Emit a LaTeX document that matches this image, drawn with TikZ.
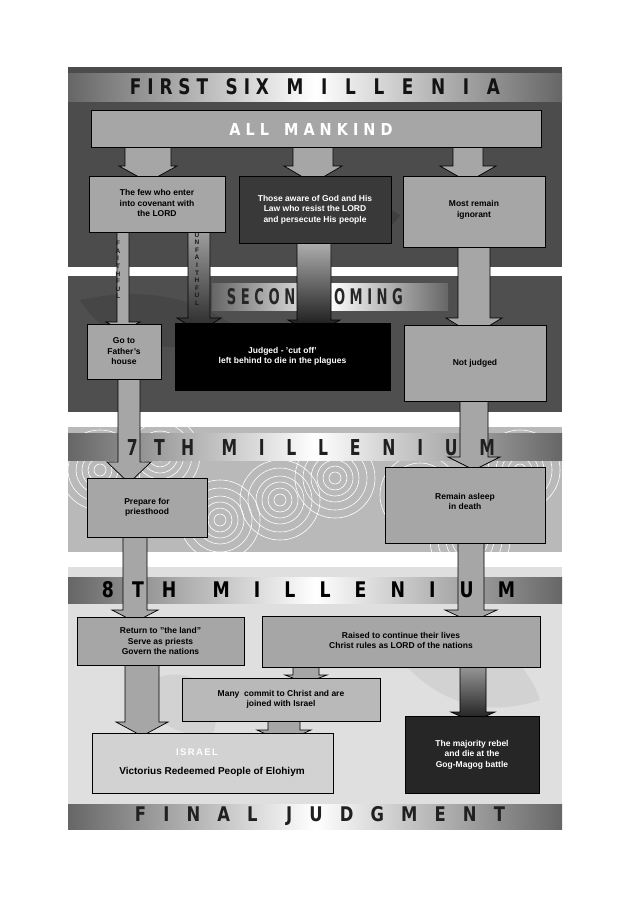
\documentclass[tikz,border=0pt]{standalone}
\usepackage{fontspec}
\setmainfont{Liberation Sans}
\newfontfamily\ttl{DejaVu Sans}[FakeStretch=0.55]
\usepackage{graphicx}
\begin{document}
\begin{tikzpicture}[x=1pt,y=-1pt,
  box/.style={draw=black,line width=0.8pt,fill=gray!70,font=\bfseries\fontsize{8.5}{10.5}\selectfont,align=center,inner sep=0pt},
  band/.style={left color=gray!80!black,right color=gray!80!black,middle color=white},
  arr/.style={draw=black,line width=0.7pt,fill=gray!70},
  ttxt/.style={inner sep=0pt,anchor=center}]
\newcommand\barrow[7][arr]{% style, xc, shaft half, head half, ytop, yhead, ytip
  \path[#1] (#2-#3,#5) -- (#2-#3,#6) -- (#2-#4,#6) -- (#2,#7) -- (#2+#4,#6) -- (#2+#3,#6) -- (#2+#3,#5) -- cycle;}
\newcommand\ttitle[5]{\node[ttxt,text=#5] at (#1,#2) {\resizebox{#3pt}{#4pt}{\ttl\bfseries #5}};}
\useasboundingbox (0,0) rectangle (630,900);
\fill[white] (0,0) rectangle (630,900);
% panels
\fill[gray!60!black] (68,67) rectangle (562,267);
\fill[gray!62!black] (68,276) rectangle (562,412);
\fill[gray!55] (68,427) rectangle (562,552);
\fill[gray!25] (68,567) rectangle (562,830);
% faint continents
\fill[gray!50!black] (250,200) .. controls (300,180) and (360,190) .. (400,215) .. controls (380,250) and (300,250) .. (250,200);
\fill[gray!55!black] (80,300) .. controls (150,285) and (200,300) .. (240,330) .. controls (180,360) and (110,350) .. (80,300);
\fill[gray!35] (380,630) .. controls (450,610) and (520,640) .. (540,700) .. controls (480,720) and (420,700) .. (380,630);
\fill[gray!35] (150,680) .. controls (200,660) and (230,700) .. (210,740) .. controls (170,730) and (140,720) .. (150,680);
% circles
\begin{scope}
\clip (68,427) rectangle (562,552);
\foreach \cx/\cy in {100/470,280/500,335/478,420/495,520/470,220/520,470/540,160/455}{
  \foreach \r in {6,12,18,24,32,40}{\draw[white,line width=0.6pt] (\cx,\cy) circle (\r);}}
\end{scope}
% bands
\fill[band] (68,73) rectangle (562,101);
\fill[band] (212,283) rectangle (448,310);
\fill[band] (68,433) rectangle (562,460);
\fill[band] (68,577) rectangle (562,603);
\fill[band] (68,804) rectangle (562,829);
\node[ttxt] (t1) at (315,87) {\resizebox{370pt}{16pt}{\color{gray!15!black}\ttl\bfseries F~I~R~S~T~~~S~I~X~~~M~~~I~~~L~~~L~~~E~~~N~~~I~~~A}};
\node[ttxt] (t3) at (315,297) {\resizebox{176pt}{16pt}{\color{gray!30!black}\ttl\bfseries S~E~C~O~N~D~~C~O~M~I~N~G}};
% arrows top
\barrow{148}{23}{29}{140}{166}{182}
\barrow{313}{20}{29}{140}{166}{183}
\barrow{468}{15}{28}{140}{166}{182}
\barrow{123}{6}{17}{225}{322}{331}
\barrow[arr,top color=gray!70,bottom color=gray!30!black]{199}{11}{22}{225}{318}{332}
\barrow[arr,top color=gray!60,bottom color=gray!10!black]{314}{17}{26}{240}{320}{335}
\barrow{474}{16}{28}{240}{318}{335}
\barrow{129}{11}{22}{375}{462}{483}
\barrow{474}{14}{26}{395}{457}{470}
\barrow{135}{12}{23}{530}{610}{622}
\barrow{471}{13}{26}{538}{610}{622}
\barrow{306}{13}{21}{660}{675}{683}
\barrow{142}{17}{26}{660}{722}{736}
\barrow{284}{16}{27}{715}{730}{742}
\barrow[arr,top color=gray!70,bottom color=gray!20!black]{473}{13}{22}{660}{712}{722}
% boxes
\node[box,minimum width=450pt,minimum height=37pt] (all) at (316,128.5) {};
\node[ttxt] (t2) at (311,129) {\resizebox{163pt}{12pt}{\color{white}\ttl\bfseries A~L~L~~~M~A~N~K~I~N~D}};
\node[box,minimum width=136pt,minimum height=56pt] (few) at (157,204) {\raisebox{8pt}{\begin{tabular}{c}The few who enter\\into covenant with\\the LORD\end{tabular}}};
\node[box,fill=gray!45!black,text=white,minimum width=152pt,minimum height=67pt] (aware) at (315,209.5) {\raisebox{9pt}{\begin{tabular}{c}Those aware of God and His\\Law who resist the LORD\\and persecute His people\end{tabular}}};
\node[box,minimum width=142pt,minimum height=71pt] (most) at (474,211.5) {\raisebox{12pt}{\begin{tabular}{c}Most remain\\ignorant\end{tabular}}};
\node[font=\bfseries\fontsize{6.5}{7.6}\selectfont,align=center,inner sep=0pt,text=gray!20!black] (f) at (118,270) {F\\A\\I\\T\\H\\F\\U\\L};
\node[font=\bfseries\fontsize{6.5}{7.6}\selectfont,align=center,inner sep=0pt,text=gray!20!black] (u) at (197,269) {U\\N\\F\\A\\I\\T\\H\\F\\U\\L};
\node[box,minimum width=74pt,minimum height=55pt] (go) at (124,351.5) {Go to\\Father's\\house};
\node[box,fill=black,text=white,minimum width=215pt,minimum height=67pt] (judged) at (282.5,356.5) {Judged - 'cut off'\\left behind to die in the plagues};
\node[box,minimum width=142pt,minimum height=76pt] (notj) at (475,363) {Not judged};
\node[ttxt] (t4) at (311,448) {\resizebox{368pt}{16pt}{\color{gray!25!black}\ttl\bfseries 7~~~T~~~H~~~~~M~~~~I~~~~L~~~~L~~~~E~~~~N~~~~I~~~~U~~~~M}};
\node[box,minimum width=120pt,minimum height=59pt] (prep) at (147,507.5) {\raisebox{8pt}{\begin{tabular}{c}Prepare for\\priesthood\end{tabular}}};
\node[box,minimum width=160pt,minimum height=76pt] (asleep) at (465,505) {\raisebox{14pt}{\begin{tabular}{c}Remain asleep\\in death\end{tabular}}};
\node[ttxt] (t5) at (308.5,590) {\resizebox{413pt}{16pt}{\color{black}\ttl\bfseries 8~~~T~~~H~~~~~~M~~~~I~~~~L~~~~L~~~~E~~~~N~~~~I~~~~U~~~~M}};
\node[box,minimum width=167pt,minimum height=48pt] (ret) at (160.5,641) {Return to "the land"\\Serve as priests\\Govern the nations};
\node[box,minimum width=278pt,minimum height=51pt] (raised) at (401,641.5) {\raisebox{3pt}{\begin{tabular}{c}Raised to continue their lives\\Christ rules as LORD of the nations\end{tabular}}};
\node[box,fill=gray!55,minimum width=198pt,minimum height=43pt] (many) at (281,699.5) {\raisebox{3pt}{\begin{tabular}{c}Many\ \ commit to Christ and are\\joined with Israel\end{tabular}}};
\node[box,fill=gray!35,minimum width=241pt,minimum height=60pt] (isr) at (212.5,763) {};
\node[ttxt,font=\bfseries\fontsize{9.5}{11}\selectfont,text=white] (isrt) at (197,752) {\addfontfeature{LetterSpace=15}ISRAEL};
\node[ttxt,font=\bfseries\fontsize{10}{12}\selectfont] (vict) at (212,772) {Victorius Redeemed People of Elohiym};
\node[box,fill=gray!30!black,text=white,minimum width=134pt,minimum height=77pt] (maj) at (472,754.5) {The majority rebel\\and die at the\\Gog-Magog battle};
\node[ttxt] (t6) at (320,816) {\resizebox{370pt}{15pt}{\color{gray!25!black}\ttl\bfseries F~~~I~~~N~~~A~~~L~~~~~J~~~U~~~D~~~G~~~M~~~E~~~N~~~T}};
\end{tikzpicture}
\end{document}
